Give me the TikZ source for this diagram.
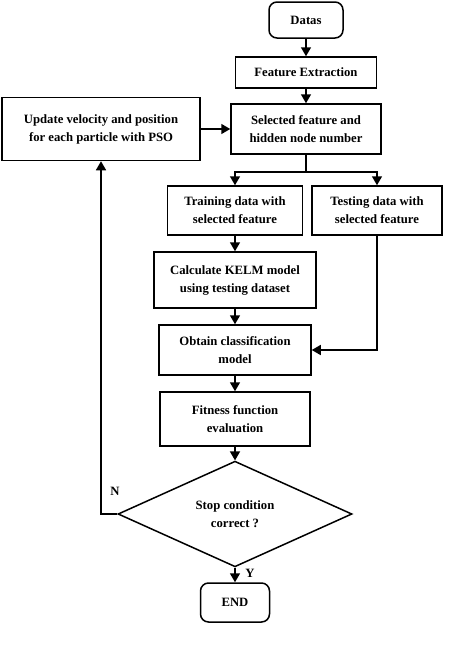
\documentclass[tikz,border=0pt]{standalone}
\usepackage{fontspec}
\setmainfont{Liberation Serif}
\usetikzlibrary{arrows.meta,shapes.geometric}
\begin{document}
\begin{tikzpicture}[x=1pt,y=-1pt,
  box/.style={draw,line width=1.5pt,align=center,font=\bfseries\fontsize{12.7}{18}\selectfont,inner sep=0pt},
  term/.style={box,rounded corners=8pt},
  arr/.style={line width=1.5pt,-{Triangle[length=9pt,width=10pt]}},
  ln/.style={line width=1.5pt},
  lbl/.style={font=\bfseries\fontsize{12.7}{14}\selectfont,inner sep=0pt}]
\useasboundingbox (0,0) rectangle (474,653);
\node[term,minimum width=74pt,minimum height=36pt] (datas) at (306,20) {Datas};
\node[box,minimum width=141pt,minimum height=31pt] (fe) at (306,72.5) {Feature Extraction};
\node[box,minimum width=150pt,minimum height=50pt] (sel) at (306,129) {Selected feature and\\hidden node number};
\node[box,minimum width=198pt,minimum height=63pt] (upd) at (101,129) {Update velocity and position\\for each particle with PSO};
\node[box,minimum width=135pt,minimum height=49pt] (train) at (235,210.5) {Training data with\\selected feature};
\node[box,minimum width=130pt,minimum height=49pt] (test) at (377,210.5) {Testing data with\\selected feature};
\node[box,minimum width=162pt,minimum height=56pt] (calc) at (235,280) {Calculate KELM model\\using testing dataset};
\node[box,minimum width=152pt,minimum height=50pt] (obt) at (235,350) {Obtain classification\\model};
\node[box,minimum width=150pt,minimum height=54pt] (fit) at (235,419) {Fitness function\\evaluation};
\node[box,diamond,minimum width=234pt,minimum height=98pt] (dec) at (235,514) {Stop condition\\correct ?};
\node[term,minimum width=69pt,minimum height=39pt] (endn) at (235,602.5) {END};
\coordinate (split) at (306,172);
\draw[arr] (datas) -- (fe);
\draw[arr] (fe) -- (sel);
\draw[arr] (upd) -- (sel);
\draw[ln] (sel.south) -- (split);
\draw[arr] (split) -| (train.north);
\draw[arr] (split) -| (test.north);
\draw[arr] (train) -- (calc);
\draw[arr] (calc) -- (obt);
\draw[arr] (test.south) |- (obt.east);
\draw[arr] (obt) -- (fit);
\draw[arr] (fit) -- (dec);
\draw[arr] (dec.south) -- (endn);
\draw[arr] (dec.west) -| (upd.south);
\node[lbl] (nlab) at (115,491) {N};
\node[lbl] (ylab) at (250,573) {Y};
\end{tikzpicture}
\end{document}
